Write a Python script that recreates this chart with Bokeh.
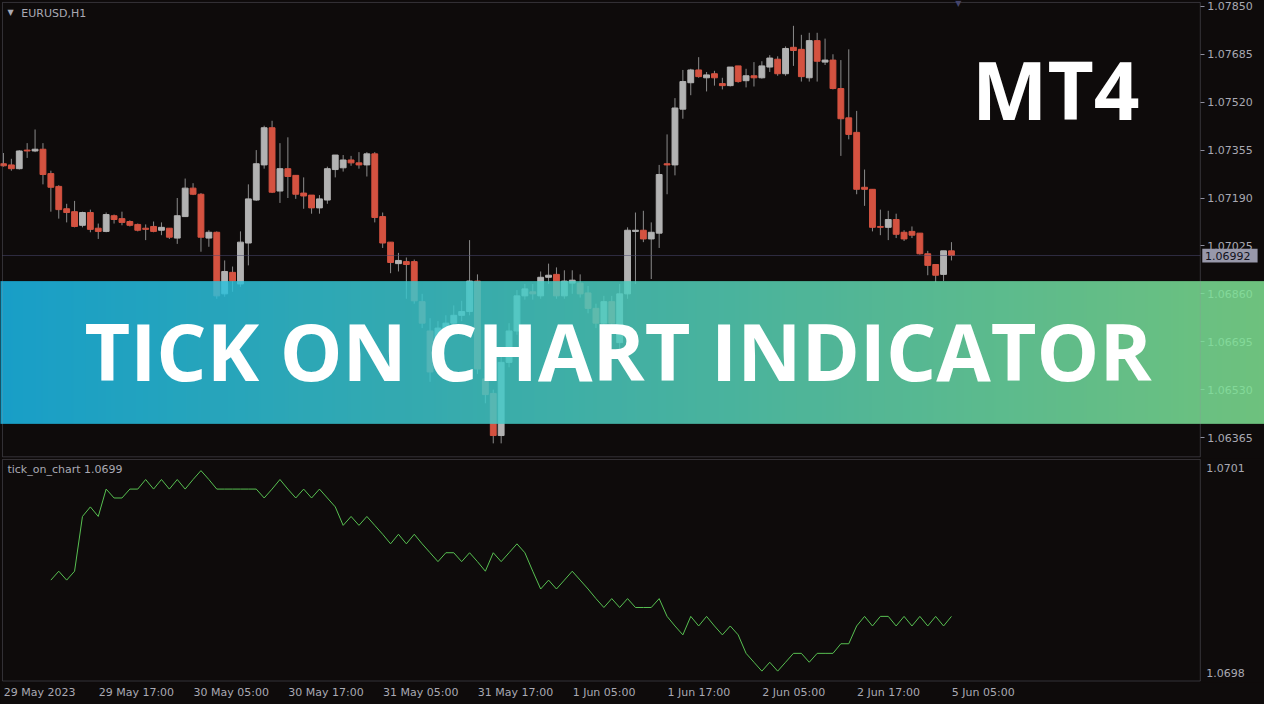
import numpy as np
from bokeh.plotting import figure
from bokeh.layouts import column
from bokeh.models import (ColumnDataSource, Range1d, FixedTicker, PrintfTickFormatter,
                          Label, BoxAnnotation)
from bokeh.core.properties import value
from bokeh.embed import file_html
from bokeh.resources import INLINE

# ---------------- data ----------------
bar_index = list(range(121))
opens = [1.07308, 1.07304, 1.07291, 1.07355, 1.07352, 1.07358, 1.07274, 1.07230, 1.07153, 1.07143,
         1.07096, 1.07140, 1.07086, 1.07075, 1.07129, 1.07119, 1.07109, 1.07099, 1.07086, 1.07092,
         1.07079, 1.07086, 1.07052, 1.07126, 1.07224, 1.07203, 1.07052, 1.07072, 1.06860, 1.06934,
         1.06894, 1.07035, 1.07183, 1.07304, 1.07432, 1.07214, 1.07291, 1.07268, 1.07207, 1.07200,
         1.07156, 1.07183, 1.07288, 1.07294, 1.07321, 1.07311, 1.07304, 1.07342, 1.07126, 1.07038,
         1.06964, 1.06971, 1.06971, 1.06833, 1.06732, 1.06618, 1.06732, 1.06759, 1.06786, 1.06799,
         1.06904, 1.06567, 1.06517, 1.06372, 1.06624, 1.06732, 1.06853, 1.06867, 1.06853, 1.06917,
         1.06927, 1.06853, 1.06897, 1.06897, 1.06863, 1.06810, 1.06759, 1.06833, 1.06692, 1.06860,
         1.07075, 1.07079, 1.07049, 1.07069, 1.07308, 1.07304, 1.07496, 1.07587, 1.07631, 1.07604,
         1.07618, 1.07584, 1.07577, 1.07645, 1.07594, 1.07611, 1.07604, 1.07641, 1.07668, 1.07618,
         1.07709, 1.07702, 1.07604, 1.07732, 1.07658, 1.07665, 1.07567, 1.07466, 1.07416, 1.07227,
         1.07220, 1.07092, 1.07089, 1.07116, 1.07072, 1.07075, 1.07069, 1.06998, 1.06961, 1.06927,
         1.07008]
highs = [1.07345, 1.07325, 1.07355, 1.07379, 1.07426, 1.07379, 1.07284, 1.07234, 1.07170, 1.07180,
         1.07143, 1.07150, 1.07102, 1.07140, 1.07133, 1.07143, 1.07113, 1.07102, 1.07099, 1.07109,
         1.07106, 1.07086, 1.07190, 1.07257, 1.07241, 1.07207, 1.07079, 1.07075, 1.06975, 1.06954,
         1.07075, 1.07237, 1.07355, 1.07439, 1.07456, 1.07379, 1.07399, 1.07268, 1.07261, 1.07200,
         1.07200, 1.07298, 1.07338, 1.07338, 1.07335, 1.07348, 1.07348, 1.07348, 1.07140, 1.07038,
         1.07001, 1.06985, 1.06978, 1.06860, 1.06776, 1.06766, 1.06786, 1.06820, 1.06836, 1.07045,
         1.06927, 1.06597, 1.06530, 1.06651, 1.06759, 1.06873, 1.06894, 1.06894, 1.06937, 1.06964,
         1.06951, 1.06941, 1.06941, 1.06927, 1.06887, 1.06826, 1.06853, 1.06853, 1.06894, 1.07089,
         1.07140, 1.07146, 1.07106, 1.07304, 1.07409, 1.07534, 1.07631, 1.07635, 1.07675, 1.07624,
         1.07628, 1.07604, 1.07641, 1.07645, 1.07635, 1.07658, 1.07661, 1.07682, 1.07678, 1.07712,
         1.07783, 1.07752, 1.07759, 1.07759, 1.07739, 1.07685, 1.07665, 1.07702, 1.07490, 1.07288,
         1.07220, 1.07150, 1.07146, 1.07136, 1.07079, 1.07092, 1.07069, 1.07008, 1.06961, 1.07008,
         1.07038]
lows = [1.07298, 1.07284, 1.07288, 1.07328, 1.07348, 1.07237, 1.07143, 1.07119, 1.07106, 1.07089,
        1.07089, 1.07072, 1.07049, 1.07072, 1.07102, 1.07096, 1.07092, 1.07075, 1.07045, 1.07072,
        1.07062, 1.07049, 1.07032, 1.07125, 1.07200, 1.07005, 1.07022, 1.06843, 1.06850, 1.06867,
        1.06884, 1.06958, 1.07180, 1.07291, 1.07207, 1.07173, 1.07190, 1.07187, 1.07153, 1.07136,
        1.07136, 1.07170, 1.07261, 1.07281, 1.07301, 1.07291, 1.07264, 1.07106, 1.07018, 1.06931,
        1.06937, 1.06843, 1.06826, 1.06742, 1.06557, 1.06584, 1.06698, 1.06739, 1.06766, 1.06786,
        1.06584, 1.06483, 1.06345, 1.06345, 1.06607, 1.06719, 1.06840, 1.06840, 1.06843, 1.06894,
        1.06843, 1.06843, 1.06860, 1.06847, 1.06793, 1.06742, 1.06742, 1.06732, 1.06671, 1.06843,
        1.06894, 1.07038, 1.06911, 1.07018, 1.07203, 1.07268, 1.07463, 1.07544, 1.07604, 1.07557,
        1.07577, 1.07564, 1.07574, 1.07587, 1.07571, 1.07574, 1.07601, 1.07624, 1.07611, 1.07611,
        1.07645, 1.07591, 1.07591, 1.07591, 1.07648, 1.07564, 1.07335, 1.07392, 1.07203, 1.07163,
        1.07075, 1.07062, 1.07045, 1.07052, 1.07042, 1.07052, 1.06995, 1.06924, 1.06900, 1.06904,
        1.06975]
closes = [1.07301, 1.07291, 1.07352, 1.07352, 1.07358, 1.07271, 1.07227, 1.07150, 1.07140, 1.07092,
          1.07140, 1.07082, 1.07075, 1.07133, 1.07116, 1.07106, 1.07096, 1.07079, 1.07082, 1.07075,
          1.07089, 1.07055, 1.07129, 1.07224, 1.07203, 1.07055, 1.07072, 1.06853, 1.06937, 1.06904,
          1.07038, 1.07187, 1.07308, 1.07432, 1.07210, 1.07291, 1.07264, 1.07203, 1.07197, 1.07156,
          1.07187, 1.07291, 1.07338, 1.07321, 1.07311, 1.07304, 1.07342, 1.07123, 1.07035, 1.06968,
          1.06975, 1.06961, 1.06836, 1.06759, 1.06591, 1.06742, 1.06759, 1.06786, 1.06799, 1.06904,
          1.06601, 1.06513, 1.06372, 1.06624, 1.06732, 1.06853, 1.06877, 1.06860, 1.06917, 1.06924,
          1.06853, 1.06904, 1.06907, 1.06860, 1.06810, 1.06759, 1.06833, 1.06759, 1.06860, 1.07079,
          1.07079, 1.07049, 1.07072, 1.07271, 1.07304, 1.07500, 1.07591, 1.07631, 1.07608, 1.07614,
          1.07604, 1.07577, 1.07641, 1.07591, 1.07611, 1.07604, 1.07645, 1.07672, 1.07618, 1.07705,
          1.07698, 1.07608, 1.07732, 1.07661, 1.07665, 1.07567, 1.07463, 1.07409, 1.07220, 1.07220,
          1.07089, 1.07089, 1.07116, 1.07065, 1.07049, 1.07062, 1.06998, 1.06958, 1.06924, 1.07008,
          1.06992]
last_price = 1.06992

price_ticks = [1.06365, 1.06530, 1.06695, 1.06860, 1.07025, 1.07190, 1.07355, 1.07520, 1.07685, 1.07850]
date_tick_index = [0, 12, 24, 36, 48, 60, 72, 84, 96, 108, 120]
date_tick_labels = ["29 May 2023", "29 May 17:00", "30 May 05:00", "30 May 17:00", "31 May 05:00",
                    "31 May 17:00", "1 Jun 05:00", "1 Jun 17:00", "2 Jun 05:00", "2 Jun 17:00",
                    "5 Jun 05:00"]

ind_index = list(range(6, 121))
ind_values = [1.069936, 1.069949, 1.069936, 1.069949, 1.070029, 1.070043, 1.070029, 1.070069, 1.070056, 1.070056,
              1.070069, 1.070069, 1.070083, 1.070069, 1.070083, 1.070069, 1.070083, 1.070069, 1.070083, 1.070096,
              1.070083, 1.070069, 1.070069, 1.070069, 1.070069, 1.070069, 1.070069, 1.070056, 1.070069, 1.070083,
              1.070069, 1.070056, 1.070069, 1.070056, 1.070069, 1.070056, 1.070043, 1.070016, 1.070029, 1.070016,
              1.070029, 1.070016, 1.070003, 1.069989, 1.070003, 1.069989, 1.070003, 1.069989, 1.069976, 1.069963,
              1.069976, 1.069976, 1.069963, 1.069976, 1.069963, 1.069949, 1.069976, 1.069963, 1.069976, 1.069989,
              1.069976, 1.069949, 1.069923, 1.069936, 1.069923, 1.069936, 1.069949, 1.069936, 1.069923, 1.069909,
              1.069896, 1.069909, 1.069896, 1.069909, 1.069896, 1.069896, 1.069896, 1.069909, 1.069883, 1.069869,
              1.069856, 1.069883, 1.069869, 1.069883, 1.069869, 1.069856, 1.069869, 1.069856, 1.069829, 1.069816,
              1.069803, 1.069816, 1.069803, 1.069816, 1.069829, 1.069829, 1.069816, 1.069829, 1.069829, 1.069829,
              1.069843, 1.069843, 1.069869, 1.069883, 1.069869, 1.069883, 1.069883, 1.069869, 1.069883, 1.069869,
              1.069883, 1.069869, 1.069883, 1.069869, 1.069883]
ind_ticks = [1.0698, 1.0701]
ind_name = "tick_on_chart 1.0699"
symbol = "EURUSD,H1"
banner_text = "TICK ON CHART INDICATOR"
corner_text = "MT4"

# ---------------- style / layout ----------------
BG = "#0e0b0b"
FRAME = "#8e8e9e"
TXT = "#a9a9b3"
BULL = "#b2b2b2"
BEAR = "#d45240"
WICK = "#8a8a8a"
FONT = "DejaVu Sans"

W = 1264
H1 = 458
H2 = 246
PX_PER_BAR = 7.9          # 8 px per bar in the 1280 px original, scaled to 1264
AXIS_AT = 151.5           # right edge of the chart area (bar units)

xr = Range1d(-0.375, 159.625)

# ---------------- main price panel ----------------
p1 = figure(width=W, height=H1, x_range=xr, y_range=Range1d(1.062929, 1.078702),
            x_axis_location=None, y_axis_location="right", toolbar_location=None,
            output_backend="svg", title=None,
            min_border_left=0, min_border_right=0, min_border_top=0, min_border_bottom=0)
p1.background_fill_color = BG
p1.border_fill_color = BG
p1.outline_line_color = None
p1.grid.visible = False

colors = [BULL if c >= o else BEAR for o, c in zip(opens, closes)]
src = ColumnDataSource(dict(x=bar_index, o=opens, h=highs, l=lows, c=closes,
                            top=[max(o, c) for o, c in zip(opens, closes)],
                            bottom=[min(o, c) for o, c in zip(opens, closes)],
                            color=colors))
p1.segment(x0="x", y0="l", x1="x", y1="h", source=src, line_color=WICK, line_width=1)
p1.vbar(x="x", width=0.74, top="top", bottom="bottom", source=src,
        fill_color="color", line_color="color", line_width=1)

# current price line (stops at the chart edge, like MT4)
p1.add_layout(BoxAnnotation(left=-0.125, right=AXIS_AT, top=last_price, bottom=last_price,
                            fill_color=None, fill_alpha=0, line_color="#4c4c74", line_width=1))

# chart frame
p1.add_layout(BoxAnnotation(left=-0.125, right=AXIS_AT, top=1.078635, bottom=1.062987,
                            fill_color=None, fill_alpha=0, line_color=FRAME, line_width=1))

ya = p1.yaxis[0]
ya.fixed_location = AXIS_AT
ya.ticker = FixedTicker(ticks=price_ticks)
ya.formatter = PrintfTickFormatter(format="%.5f")
ya.axis_line_color = None
ya.major_tick_out = 4
ya.major_tick_in = 0
ya.major_tick_line_color = FRAME
ya.minor_tick_line_color = None
ya.major_label_standoff = 3
ya.major_label_text_font = FONT
ya.major_label_text_font_size = "11px"
ya.major_label_text_color = TXT

p1.add_layout(Label(x=0.9, y=1.078298, text="\u25bc", text_font=FONT, text_font_size="8px",
                    text_color=TXT, text_align="center", text_baseline="middle"))
p1.add_layout(Label(x=2.25, y=1.078264, text=symbol, text_font=FONT, text_font_size="11px",
                    text_color=TXT, text_baseline="middle"))
p1.add_layout(Label(x=120.875, y=1.078585, text="\u25bc", text_font=FONT, text_font_size="8px",
                    text_color="#44446a", text_align="center", text_baseline="middle"))

# current price box on the axis
p1.add_layout(BoxAnnotation(left=151.75, right=158.75, top=1.070150, bottom=1.069677,
                            fill_color="#9898aa", fill_alpha=1.0, line_color=None))
p1.add_layout(Label(x=152.1, y=last_price, text="%.5f" % last_price, text_font=FONT,
                    text_font_size="11px", text_color="#121220", text_baseline="middle"))

# semi-transparent gradient banner (one RGBA image row, stretched)
banner_top = 1.069038
banner_bottom = 1.064122
left_rgb = (24, 159, 200)
right_rgb = (110, 194, 126)
bg_rgb = (14, 11, 11)
alpha = 0.85
NCOL = 1280
img = np.zeros((1, NCOL), dtype=np.uint32)
view = img.view(dtype=np.uint8).reshape((1, NCOL, 4))
for j in range(NCOL):
    t = j / (NCOL - 1)
    for ch in range(3):
        d = left_rgb[ch] + (right_rgb[ch] - left_rgb[ch]) * t
        view[0, j, ch] = int(round(min(255, max(0, (d - (1 - alpha) * bg_rgb[ch]) / alpha))))
    view[0, j, 3] = int(round(alpha * 255))
p1.image_rgba(image=[img], x=-0.375, y=banner_bottom, dw=160.0, dh=banner_top - banner_bottom,
              level="annotation")

p1.text(x=[10.25], y=[1.066664], text=[banner_text], text_font=value("Open Sans"),
        text_font_style="bold", text_font_size="79px", text_color="white",
        text_baseline="middle", level="overlay")
p1.text(x=[122.6], y=[1.075688], text=[corner_text], text_font=value("Open Sans"),
        text_font_style="bold", text_font_size="80px", text_color="white",
        text_baseline="middle", level="overlay")

# ---------------- indicator panel ----------------
p2 = figure(width=W, height=H2, x_range=xr, y_range=Range1d(1.0697864, 1.0701137),
            y_axis_location="right", toolbar_location=None, output_backend="svg", title=None,
            min_border_left=0, min_border_right=0, min_border_top=0, min_border_bottom=22)
p2.background_fill_color = BG
p2.border_fill_color = BG
p2.outline_line_color = None
p2.grid.visible = False

p2.add_layout(BoxAnnotation(left=-0.125, right=AXIS_AT, top=1.0701123, bottom=1.06978857,
                            fill_color=None, fill_alpha=0, line_color=FRAME, line_width=1))

p2.line(ind_index, ind_values, line_color="#58c052", line_width=1)

ya2 = p2.yaxis[0]
ya2.fixed_location = AXIS_AT
ya2.ticker = FixedTicker(ticks=ind_ticks)
ya2.formatter = PrintfTickFormatter(format="%.4f")
ya2.axis_line_color = None
ya2.major_tick_line_color = None
ya2.minor_tick_line_color = None
ya2.major_tick_out = 4
ya2.major_label_standoff = 2
ya2.major_label_text_font = FONT
ya2.major_label_text_font_size = "11px"
ya2.major_label_text_color = TXT

# date labels are left-aligned at their bar in MT4; Bokeh centres them, so shift each
# label by half of its (DejaVu Sans 11px) text width
adv = {"M": 0.863, "a": 0.613, "y": 0.592, "J": 0.295, "u": 0.634, "n": 0.634,
       ":": 0.337, " ": 0.318}
def half_width_bars(s):
    w = sum(adv.get(ch, 0.636) for ch in s) * 11
    return w / 2 / PX_PER_BAR

label_pos = [round(i + half_width_bars(s) + 0.05, 3) for i, s in zip(date_tick_index, date_tick_labels)]
xa = p2.xaxis[0]
xa.ticker = FixedTicker(ticks=label_pos)
xa.major_label_overrides = {pos: s for pos, s in zip(label_pos, date_tick_labels)}
xa.axis_line_color = None
xa.major_tick_out = 0
xa.major_tick_in = 0
xa.major_tick_line_color = None
xa.minor_tick_line_color = None
xa.major_label_standoff = 3
xa.major_label_text_font = FONT
xa.major_label_text_font_size = "11px"
xa.major_label_text_color = TXT

p2.add_layout(Label(x=0.5, y=1.070097, text=ind_name, text_font=FONT, text_font_size="11px",
                    text_color=TXT, text_baseline="middle"))

layout = column(p1, p2, spacing=0)
layout.styles = {"background-color": BG}

open("out.html", "w").write(file_html(layout, INLINE))
